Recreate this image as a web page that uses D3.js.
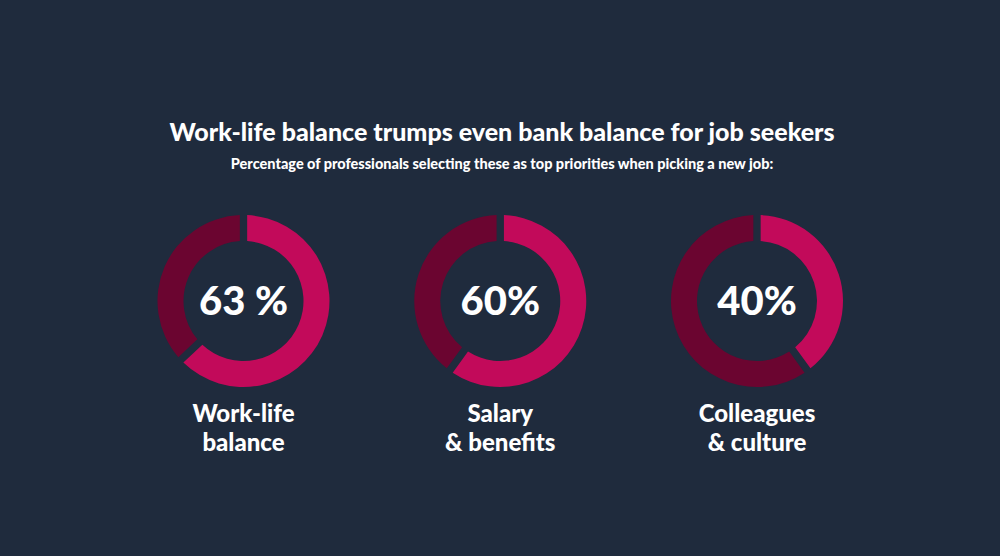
<!DOCTYPE html><html><head><meta charset="utf-8"><script src="https://cdn.jsdelivr.net/npm/d3@7"></script>
<style>body{margin:0;background:#1f2b3d}svg{display:block}text{font-family:Lato,"Open Sans",sans-serif;fill:#fff;font-weight:900}</style></head><body>
<script>
const categories=[["Work-life","balance"],["Salary","& benefits"],["Colleagues","& culture"]];
const values=[63,60,40];
const pctLabels=["63 %","60%","40%"];
const W=1000,H=556;
const svg=d3.select("body").append("svg").attr("width",W).attr("height",H);
svg.append("rect").attr("width",W).attr("height",H).attr("fill","#1f2b3d");
svg.append("text").attr("x",502).attr("y",141).attr("text-anchor","middle").attr("font-size",25).text("Work-life balance trumps even bank balance for job seekers");
svg.append("text").attr("x",502).attr("y",169).attr("text-anchor","middle").attr("font-size",14.5).text("Percentage of professionals selecting these as top priorities when picking a new job:");
const x=d3.scalePoint().domain(d3.range(3)).range([243.5,757]);
const arc=d3.arc().innerRadius(60).outerRadius(86).padAngle(0.07);
values.forEach((v,i)=>{
  const g=svg.append("g").attr("transform",`translate(${x(i)},301)`);
  const pie=d3.pie().sort(null)([v,100-v]);
  g.selectAll("path").data(pie).join("path").attr("d",arc).attr("fill",(d,j)=>j?"#6b0530":"#c20a5a");
  g.append("text").attr("text-anchor","middle").attr("y",14).attr("font-size",40).text(pctLabels[i]);
  categories[i].forEach((t,k)=>g.append("text").attr("text-anchor","middle").attr("y",121+k*29).attr("font-size",24).text(t));
});
</script></body></html>
